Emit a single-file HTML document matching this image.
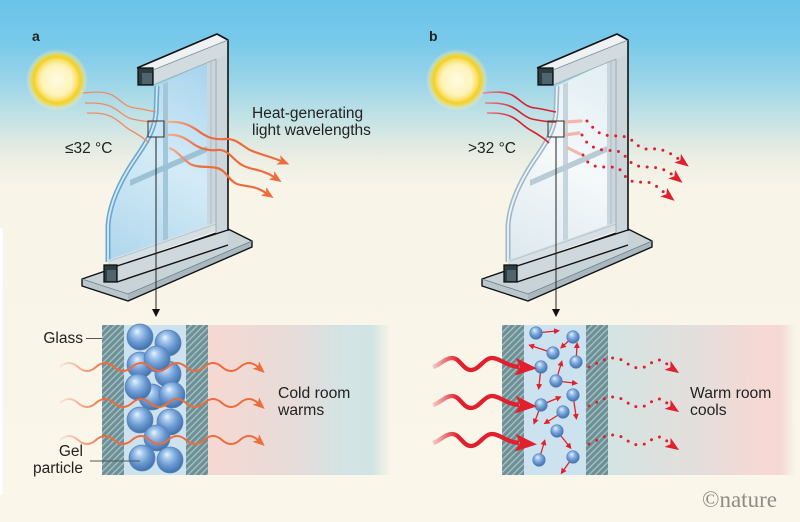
<!DOCTYPE html>
<html><head><meta charset="utf-8"><style>
html,body{margin:0;padding:0;background:#faf6ea;}
svg{display:block;}
text{font-family:"Liberation Sans",sans-serif;fill:#222;}
</style></head><body>
<svg width="800" height="522" viewBox="0 0 800 522" xmlns="http://www.w3.org/2000/svg">
<defs>
<linearGradient id="sky" x1="0" y1="0" x2="0" y2="1">
<stop offset="0" stop-color="#69c4ea"/><stop offset="0.08" stop-color="#78c9ea"/><stop offset="0.16" stop-color="#9cd5e8"/><stop offset="0.22" stop-color="#bfe1e6"/><stop offset="0.27" stop-color="#dde9e2"/><stop offset="0.31" stop-color="#eeefe4"/><stop offset="0.36" stop-color="#f8f4e8"/><stop offset="1" stop-color="#faf6ea"/>
</linearGradient>
<radialGradient id="sun" cx="0.5" cy="0.5" r="0.5">
<stop offset="0" stop-color="#fffbe3"/><stop offset="0.5" stop-color="#fdf3b8"/><stop offset="0.66" stop-color="#f9e06a"/><stop offset="0.74" stop-color="#f5d020"/><stop offset="0.82" stop-color="#f7d93a" stop-opacity="0.8"/><stop offset="0.9" stop-color="#fbe690" stop-opacity="0.45"/><stop offset="1" stop-color="#fff6c8" stop-opacity="0"/>
</radialGradient>
<linearGradient id="glassA" gradientUnits="userSpaceOnUse" x1="216" y1="60" x2="108" y2="260">
<stop offset="0" stop-color="#a3d2ec"/><stop offset="0.5" stop-color="#d4ebf7"/><stop offset="1" stop-color="#aed6ec"/>
</linearGradient>
<linearGradient id="glassB" gradientUnits="userSpaceOnUse" x1="616" y1="60" x2="508" y2="260">
<stop offset="0" stop-color="#dfedf3"/><stop offset="0.5" stop-color="#f5f9fa"/><stop offset="1" stop-color="#dce8ee"/>
</linearGradient>
<pattern id="h" width="4.5" height="4.5" patternUnits="userSpaceOnUse" patternTransform="rotate(45)">
<rect width="4.5" height="4.5" fill="#6d9096"/><rect width="1.3" height="4.5" fill="#a9c3c6"/>
</pattern>
<linearGradient id="roomA" x1="0" y1="0" x2="1" y2="0">
<stop offset="0" stop-color="#f6d8d2"/><stop offset="0.5" stop-color="#e6dcd9"/><stop offset="0.75" stop-color="#d2e4e3"/><stop offset="0.9" stop-color="#d0e4e3"/><stop offset="1" stop-color="#f8f4e9"/>
</linearGradient>
<linearGradient id="roomB" x1="0" y1="0" x2="1" y2="0">
<stop offset="0" stop-color="#d3e4e3"/><stop offset="0.5" stop-color="#e5dedb"/><stop offset="0.85" stop-color="#f7d8d4"/><stop offset="0.92" stop-color="#f6d8d3"/><stop offset="1" stop-color="#f8f4e9"/>
</linearGradient>
<radialGradient id="sp" cx="0.45" cy="0.4" r="0.6" fx="0.38" fy="0.28">
<stop offset="0" stop-color="#eaf4fc"/><stop offset="0.25" stop-color="#a9cbef"/><stop offset="0.6" stop-color="#6d9bd3"/><stop offset="0.9" stop-color="#4c7bb7"/><stop offset="1" stop-color="#41709f"/>
</radialGradient>
<linearGradient id="fo" gradientUnits="userSpaceOnUse" x1="55" y1="0" x2="105" y2="0">
<stop offset="0" stop-color="#ee6b3c" stop-opacity="0"/><stop offset="1" stop-color="#ee6b3c"/>
</linearGradient>
<linearGradient id="fr" gradientUnits="userSpaceOnUse" x1="430" y1="0" x2="458" y2="0">
<stop offset="0" stop-color="#e0202d" stop-opacity="0.1"/><stop offset="1" stop-color="#e0202d"/>
</linearGradient>
<linearGradient id="tr" gradientUnits="userSpaceOnUse" x1="483" y1="0" x2="515" y2="0">
<stop offset="0" stop-color="#e88a90"/><stop offset="1" stop-color="#d8202e"/>
</linearGradient>
<linearGradient id="oa" gradientUnits="userSpaceOnUse" x1="165" y1="0" x2="200" y2="0">
<stop offset="0" stop-color="#f5b89c"/><stop offset="1" stop-color="#ee6b3c"/>
</linearGradient>
<marker id="ao" viewBox="0 0 12 10" refX="3" refY="5" markerWidth="12" markerHeight="10" markerUnits="userSpaceOnUse" orient="auto"><path d="M0,0 L12,5 L0,10 L3,5 Z" fill="#ee6b3c"/></marker>
<marker id="ar" viewBox="0 0 14 11" refX="3" refY="5.5" markerWidth="14" markerHeight="11" markerUnits="userSpaceOnUse" orient="auto"><path d="M0,0 L14,5.5 L0,11 L3.5,5.5 Z" fill="#e0202d"/></marker>
<marker id="abig" viewBox="0 0 22 18" refX="4" refY="9" markerWidth="22" markerHeight="18" markerUnits="userSpaceOnUse" orient="auto"><path d="M0,0 L22,9 L0,18 L5,9 Z" fill="#e0202d"/></marker>
<marker id="as" viewBox="0 0 6 6" refX="2" refY="3" markerWidth="6" markerHeight="6" markerUnits="userSpaceOnUse" orient="auto"><path d="M0,0 L6,3 L0,6 Z" fill="#e0202d"/></marker>
</defs>

<rect x="0" y="0" width="800" height="522" fill="url(#sky)"/>
<rect x="0" y="228" width="2.5" height="267" fill="#ffffff"/>

<!-- suns -->
<circle cx="57" cy="80" r="31" fill="url(#sun)"/>
<circle cx="457" cy="80" r="31" fill="url(#sun)"/>

<!-- panel letters -->
<text x="32" y="41" font-size="14" font-weight="bold">a</text>
<text x="429" y="41" font-size="14" font-weight="bold">b</text>

<!-- Window A glass -->
<path d="M157,86 L216,58 L216,223 L108,260 L108,226 C109,208 116,190 128,170 C140,150 154,136 156,113 Z" fill="url(#glassA)"/>
<polygon points="163,84 168,82 168,246 163,248" fill="#a3c7d9"/>
<polygon points="130,180 207,146 207,152 130,186" fill="#9cc2d5"/>
<path d="M157,86 L156,113 C154,136 140,150 128,170 C116,190 109,208 108,226 L108,262" fill="none" stroke="#6aa7d1" stroke-width="5"/>
<path d="M157,86 L156,113 C154,136 140,150 128,170 C116,190 109,208 108,226 L108,262" fill="none" stroke="#d3eaf6" stroke-width="1.8"/>

<!-- Window B glass -->
<path d="M557,86 L616,58 L616,223 L508,260 L508,226 C509,208 516,190 528,170 C540,150 554,136 556,113 Z" fill="url(#glassB)"/>
<polygon points="563,84 568,82 568,246 563,248" fill="#c6d5dc"/>
<polygon points="530,180 607,146 607,152 530,186" fill="#b9cbd4"/>
<path d="M557,86 L556,113 C554,136 540,150 528,170 C516,190 509,208 508,226 L508,262" fill="none" stroke="#9fb8c8" stroke-width="5"/>
<path d="M557,86 L556,113 C554,136 540,150 528,170 C516,190 509,208 508,226 L508,262" fill="none" stroke="#eef4f7" stroke-width="1.8"/>

<!-- Frame -->
<g id="frame">
<path d="M82,279 L228,229 L252,241 L128,294 Z" fill="#c8d3d8"/>
<path d="M128,294 L252,241 L252,247 L128,301 Z" fill="#a9b7be"/>
<path d="M82,279 L128,294 L128,301 L82,286 Z" fill="#b9c6cc"/>
<path d="M82,279 L228,229 L252,241 L252,247 L128,301 L82,286 Z" fill="none" stroke="#111" stroke-width="1.4" stroke-linejoin="round"/>
<path d="M82,279 L128,294 L252,241" fill="none" stroke="#6f8088" stroke-width="0.8"/>
<polygon points="207,62 216,58 216,227 207,230" fill="#cbd7dc"/>
<line x1="211" y1="61" x2="211" y2="228" stroke="#a9bcc5" stroke-width="1"/>
<polygon points="108,260 216,222 216,231 117,266 108,266" fill="#d6e0e4"/>
<line x1="110" y1="261" x2="216" y2="224" stroke="#aebfc7" stroke-width="0.8"/>
<polygon points="216,50 228,45 228,231 216,235" fill="#ccd6db"/>
<line x1="216" y1="58" x2="216" y2="234" stroke="#8fa2ab" stroke-width="0.8"/>
<polygon points="137,68 217,34 228,40 153,70" fill="#eef2f4"/>
<polygon points="153,70 228,40 228,54 216,59 153,85" fill="#d2dbe0"/>
<line x1="153" y1="85" x2="216" y2="59" stroke="#9aabb3" stroke-width="0.8"/>
<rect x="138" y="68" width="15" height="17" fill="#2e3c43" stroke="#111" stroke-width="1.3"/>
<rect x="142" y="73" width="10" height="11" fill="#4f656e"/>
<path d="M137,68 L217,34 L228,40 L228,231" fill="none" stroke="#111" stroke-width="1.6" stroke-linejoin="round"/>
<line x1="153" y1="70" x2="228" y2="40" stroke="#7a8b93" stroke-width="0.7"/>
<polygon points="117,266 228,230 228,245 117,282" fill="#cfd8dc"/>
<line x1="117" y1="266" x2="228" y2="230" stroke="#111" stroke-width="1.4"/>
<line x1="117" y1="282" x2="228" y2="245" stroke="#111" stroke-width="1.4"/>
<rect x="104" y="265" width="13" height="17" fill="#2e3c43" stroke="#111" stroke-width="1.3"/>
<rect x="107" y="270" width="9" height="11" fill="#4f656e"/>
</g>
<use href="#frame" transform="translate(400,0)"/>

<!-- Window A rays -->
<g fill="none" stroke="#ef8c66" stroke-width="1.3">
<path d="M83,93 C95,92 103,91 112,95 C121,100 125,107 135,108 C143,109 150,111 156,112"/>
<path d="M85,103 C95,103 104,103 112,107 C120,111 124,117 132,119 C141,121 148,122 156,122"/>
<path d="M87,113 C96,113 104,113 112,117 C120,121 124,127 132,131 C139,135 144,138 149,143"/>
</g>
<g fill="none" stroke="url(#oa)" stroke-width="2.2" marker-end="url(#ao)">
<path d="M166,122 C180,121 188,124 197,130 C206,137 213,140 225,139 C236,138 242,146 250,150 C258,154 266,155 281,161"/>
<path d="M168,135 C178,134 185,138 192,143 C200,149 208,151 218,150 C228,149 233,160 242,165 C250,170 262,169 274,177"/>
<path d="M169,148 C176,150 182,158 190,164 C198,168 208,166 217,168 C226,170 229,181 237,184 C246,187 254,185 266,193"/>
</g>

<!-- Window B rays -->
<g fill="none" stroke="url(#tr)" stroke-width="1.6">
<path d="M483,93 C495,92 503,91 512,95 C521,100 525,107 535,108 C543,109 550,111 556,112"/>
<path d="M485,103 C495,103 504,103 512,107 C520,111 524,117 532,119 C541,121 548,122 556,122"/>
<path d="M487,113 C496,113 504,113 512,117 C520,121 524,127 532,131 C539,135 544,138 549,143"/>
</g>
<g fill="none" stroke="#f3b6ad" stroke-width="3.2" stroke-linecap="round">
<path d="M565,122 L581,121"/><path d="M565,135 L579,133"/><path d="M568,148 L580,154"/>
</g>
<g fill="none" stroke="#e0202d" stroke-width="3" stroke-linecap="round" stroke-dasharray="0 8.5" marker-end="url(#ar)">
<path d="M587,121 C592,126 596,133 605,135 C613,137 622,134 630,139 C636,143 640,150 650,149 C660,148 668,151 680,160"/>
<path d="M582,135 C585,142 592,149 604,150 C614,151 621,150 625,156 C630,163 636,167 646,167 C656,167 664,168 674,176"/>
<path d="M583,155 C586,162 592,167 602,167 C612,167 618,166 623,173 C627,180 632,183 642,182 C652,181 656,186 666,194"/>
</g>

<!-- connectors -->
<rect x="148" y="121" width="16" height="16" fill="none" stroke="#333" stroke-width="1"/>
<line x1="156" y1="137" x2="156" y2="311" stroke="#222" stroke-width="1"/>
<polygon points="152,309 160,309 156,317" fill="#111"/>
<rect x="548" y="121" width="16" height="16" fill="none" stroke="#333" stroke-width="1"/>
<line x1="556" y1="137" x2="556" y2="311" stroke="#222" stroke-width="1"/>
<polygon points="552,309 560,309 556,317" fill="#111"/>

<!-- Window labels -->
<text x="65" y="153" font-size="15.5">≤32 °C</text>
<text x="468" y="153" font-size="15.5">&gt;32 °C</text>
<text x="252" y="118" font-size="15.5">Heat-generating</text>
<text x="252" y="135" font-size="15.5">light wavelengths</text>

<!-- Panel A -->
<rect x="102" y="325" width="22" height="150" fill="url(#h)"/>
<rect x="124" y="325" width="62" height="150" fill="#cde2ef"/>
<rect x="186" y="325" width="22" height="150" fill="url(#h)"/>
<rect x="208" y="325" width="182" height="150" fill="url(#roomA)"/>
<g fill="url(#sp)" stroke="#5a84b8" stroke-width="0.8">
<circle cx="140" cy="337" r="13"/><circle cx="168" cy="343" r="13"/>
<circle cx="140" cy="365" r="13"/><circle cx="168" cy="374" r="13"/><circle cx="157" cy="359" r="13"/>
<circle cx="152" cy="397" r="13"/><circle cx="138" cy="387" r="13"/><circle cx="172" cy="395" r="13"/>
<circle cx="140" cy="420" r="13"/><circle cx="170" cy="422" r="13"/><circle cx="157" cy="438" r="13"/>
<circle cx="142" cy="458" r="13"/><circle cx="170" cy="460" r="13"/>
</g>
<g fill="none" stroke="url(#fo)" stroke-width="2" marker-end="url(#ao)">
<path d="M60,367 Q69,359 78,367 T96,367 T114,367 T132,367 T150,367 T168,367 T186,367 T204,367 T222,367 T240,367 T258,367"/>
<path d="M60,403 Q69,395 78,403 T96,403 T114,403 T132,403 T150,403 T168,403 T186,403 T204,403 T222,403 T240,403 T258,403"/>
<path d="M60,440 Q69,432 78,440 T96,440 T114,440 T132,440 T150,440 T168,440 T186,440 T204,440 T222,440 T240,440 T258,440"/>
</g>
<line x1="86" y1="338.5" x2="102" y2="338.5" stroke="#555" stroke-width="1"/>
<line x1="90" y1="461" x2="140" y2="461" stroke="#555" stroke-width="1"/>
<text x="83" y="343" font-size="15.5" text-anchor="end">Glass</text>
<text x="83" y="456" font-size="15.5" text-anchor="end">Gel</text>
<text x="83" y="473" font-size="15.5" text-anchor="end">particle</text>
<text x="278" y="398" font-size="15.7">Cold room</text>
<text x="278" y="415" font-size="15.7">warms</text>

<!-- Panel B -->
<rect x="502" y="325" width="22" height="150" fill="url(#h)"/>
<rect x="524" y="325" width="62" height="150" fill="#cde2ef"/>
<rect x="586" y="325" width="22" height="150" fill="url(#h)"/>
<rect x="608" y="325" width="187" height="150" fill="url(#roomB)"/>
<g stroke="#e0202d" stroke-width="1.3" marker-end="url(#as)">
<line x1="536" y1="333" x2="556" y2="331"/>
<line x1="573" y1="337" x2="563" y2="346"/>
<line x1="553" y1="353" x2="532" y2="346"/>
<line x1="576" y1="362" x2="577" y2="346"/>
<line x1="541" y1="367" x2="539" y2="386"/>
<line x1="556" y1="381" x2="561" y2="364"/>
<line x1="556" y1="381" x2="574" y2="383"/>
<line x1="573" y1="395" x2="576" y2="416"/>
<line x1="541" y1="405" x2="558" y2="398"/>
<line x1="541" y1="405" x2="535" y2="421"/>
<line x1="563" y1="412" x2="547" y2="422"/>
<line x1="557" y1="431" x2="569" y2="446"/>
<line x1="539" y1="460" x2="544" y2="443"/>
<line x1="573" y1="457" x2="563" y2="471"/>
</g>
<g fill="url(#sp)" stroke="#5a84b8" stroke-width="0.6">
<circle cx="536" cy="333" r="6.3"/><circle cx="573" cy="337" r="6.3"/><circle cx="553" cy="353" r="6.3"/>
<circle cx="576" cy="362" r="6.3"/><circle cx="541" cy="367" r="6.3"/><circle cx="556" cy="381" r="6.3"/>
<circle cx="573" cy="395" r="6.3"/><circle cx="541" cy="405" r="6.3"/><circle cx="563" cy="412" r="6.3"/>
<circle cx="557" cy="431" r="6.3"/><circle cx="539" cy="460" r="6.3"/><circle cx="573" cy="457" r="6.3"/>
</g>
<g fill="none" stroke="url(#fr)" stroke-width="4.3" marker-end="url(#abig)">
<path d="M433,367 C440,365 445,358 452,358 C460,358 463,370 471,370 C479,370 484,358 492,358 C500,358 506,366 519,367"/>
<path d="M433,405 C440,403 445,396 452,396 C460,396 463,408 471,408 C479,408 484,396 492,396 C500,396 506,404 519,405"/>
<path d="M433,443 C440,441 445,434 452,434 C460,434 463,446 471,446 C479,446 484,434 492,434 C500,434 506,442 519,443"/>
</g>
<g fill="none" stroke="#e0202d" stroke-width="3" stroke-linecap="round" stroke-dasharray="0 8.5" marker-end="url(#ar)">
<path d="M589,367 C598,363 604,358 614,358 C624,358 629,368 639,368 C649,368 651,360 659,360 C665,360 667,365 670,367"/>
<path d="M589,406 C598,402 604,397 614,397 C624,397 629,407 639,407 C649,407 651,399 659,399 C665,399 667,404 670,406"/>
<path d="M589,444 C598,440 604,435 614,435 C624,435 629,445 639,445 C649,445 651,437 659,437 C665,437 667,442 670,444"/>
</g>
<text x="690" y="398" font-size="15.7">Warm room</text>
<text x="690" y="415" font-size="15.7">cools</text>

<text x="702" y="507" font-size="23" style="font-family:'Liberation Serif',serif;fill:#8e8c85;">©nature</text>
</svg>
</body></html>
